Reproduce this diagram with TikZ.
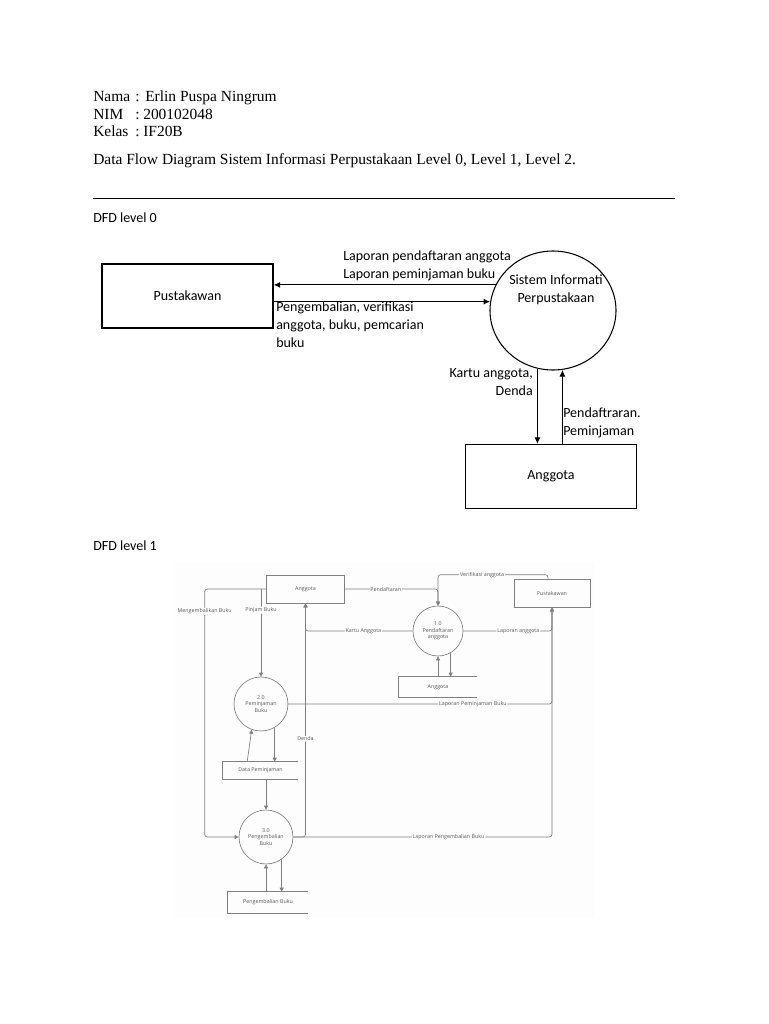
\documentclass[tikz,border=0pt]{standalone}
\usepackage{fontspec}
\setmainfont{Liberation Serif}
\newfontfamily\calfont{Carlito}
\newfontfamily\tinyfont{Open Sans}
\usetikzlibrary{arrows.meta,positioning,calc,shapes.geometric}

\begin{document}
\begin{tikzpicture}[x=0.75pt,y=-0.75pt,
		txt/.style={anchor=base west, inner sep=0, font=\fontsize{11.6}{14}\selectfont},
		box0/.style={draw=black, line width=0.8pt, minimum width=128.25pt, minimum height=48pt, inner sep=0, font=\calfont\fontsize{10.5}{13.5}\selectfont},
		proc0/.style={draw=black, ellipse, line width=0.8pt, minimum width=94.5pt, minimum height=89.25pt, inner sep=0},
		lbl0/.style={inner sep=0, font=\calfont\fontsize{10.5}{13.5}\selectfont},
		flow0/.style={line width=0.8pt, -{Latex[length=5pt,width=4.5pt]}},
		box1/.style={draw=black!50, line width=0.5pt, minimum height=21pt, inner sep=0, text=black!65, font=\tinyfont\fontsize{4}{5}\selectfont},
		proc1/.style={draw=black!50, circle, line width=0.5pt, inner sep=0, align=center, text=black!65, font=\tinyfont\fontsize{4}{5}\selectfont},
		store1/.style={inner sep=0, text=black!65, font=\tinyfont\fontsize{4}{5}\selectfont},
		edge1/.style={draw=black!50, line width=0.5pt},
		flow1/.style={edge1, rounded corners=2pt, -{Triangle[length=3pt,width=3pt]}},
		lbl1/.style={fill=black!0.8, inner sep=0.6pt, text=black!65, font=\tinyfont\fontsize{4}{5}\selectfont}]
	\useasboundingbox (0,0) rectangle (768,1024);

	% header
	\node[txt] (nama) at (93,101) {Nama};
	\node[txt] (namac) at (135,101) {:};
	\node[txt] (namaval) at (145,101) {Erlin Puspa Ningrum};
	\node[txt] (nim) at (93,119) {NIM};
	\node[txt] (nimc) at (135,119) {:};
	\node[txt] (nimval) at (143,119) {200102048};
	\node[txt] (kelas) at (93,137) {Kelas};
	\node[txt] (kelasc) at (135,137) {:};
	\node[txt] (kelasval) at (143,137) {IF20B};
	\node[txt] (judul) at (93,164) {Data Flow Diagram Sistem Informasi Perpustakaan Level 0, Level 1, Level 2.};
	\draw[line width=0.75pt] (93,198) -- (675,198);

	% DFD level 0
	\node[txt, font=\calfont\fontsize{10.5}{13.5}\selectfont] (lv0) at (93,222) {DFD level 0};
	\node[box0] (pk) at (187.5,296) {Pustakawan};
	\node[proc0] (sys) at (553,310.5) {};
	\node[lbl0, align=center] (systxt) at (556,290) {Sistem Informati\\Perpustakaan};
	\node[box0] (ang) at (551,476.5) {Anggota};

	\draw[flow0] (sys.156) -- (sys.156 -| pk.east);
	\draw[flow0] (sys.172 -| pk.east) -- (sys.172);
	\draw[flow0] (sys.255) -- (sys.255 |- ang.north);
	\draw[flow0] (sys.279 |- ang.north) -- (sys.279);

	\node[lbl0, align=left, anchor=north west] (lap) at (343,251) {Laporan pendaftaran anggota\\Laporan peminjaman buku};
	\node[lbl0, align=left, anchor=north west] (kem) at (276,302) {Pengembalian, verifikasi\\anggota, buku, pemcarian\\buku};
	\node[lbl0, align=right, anchor=north east] (kartu) at (533,368) {Kartu anggota,\\Denda};
	\node[lbl0, align=left, anchor=north west] (daftar) at (563,408) {Pendaftraran.\\Peminjaman};

	% DFD level 1
	\node[txt, font=\calfont\fontsize{10.5}{13.5}\selectfont] (lv1) at (93,550) {DFD level 1};
	\fill[black!0.8] (175,562) rectangle (595,918);
	\node[box1, minimum width=58.5pt] (a1) at (305.5,589) {Anggota};
	\node[box1, minimum width=57pt] (pk1) at (552,593) {Pustakawan};
	\node[proc1, minimum size=37.5pt] (p1) at (438,631) {1.0\\Pendaftaran\\anggota};
	\node[proc1, minimum size=40.5pt] (p2) at (261,704) {2.0\\Peminjaman\\Buku};
	\node[proc1, minimum size=40.5pt] (p3) at (266,837) {3.0\\Pengembalian\\Buku};
	\node[store1, minimum width=58.5pt, minimum height=15pt] (ds1) at (438,687) {Anggota};
	\node[store1, minimum width=56.25pt, minimum height=12.75pt] (ds2) at (260.5,770.5) {Data Peminjaman};
	\node[store1, minimum width=60pt, minimum height=15.75pt] (ds3) at (268,902.5) {Pengembalian Buku};
	\draw[edge1] (ds1.north east) -- (ds1.north west) -- (ds1.south west) -- (ds1.south east);
	\draw[edge1] (ds2.north east) -- (ds2.north west) -- (ds2.south west) -- (ds2.south east);
	\draw[edge1] (ds3.north east) -- (ds3.north west) -- (ds3.south west) -- (ds3.south east);

	\draw[flow1] (a1.east) -| node[lbl1, pos=0.22] {Pendaftaran} (p1.north);
	\draw[flow1] ([xshift=-3pt]pk1.north) -- ++(0,-4) -| node[lbl1, pos=0.3] {Verifikasi anggota} (p1.north);
	\draw[flow1] (p1.west) -| node[lbl1, pos=0.23] {Kartu Anggota} (a1.south);
	\draw[flow1] (p1.east) -| node[lbl1, pos=0.31] {Laporan anggota} (pk1.south);
	\draw[flow1] (ds1.north -| p1.south) -- (p1.south);
	\draw[flow1] (p1.300) -- (p1.300 |- ds1.north);
	\draw[flow1] (a1.west) -- ++(-61.5,0) |- node[lbl1, pos=0.045] {Mengembalikan Buku} (p3.west);
	\draw[flow1] (p2.north |- a1.west) -- node[lbl1, pos=0.24] {Pinjam Buku} (p2.north);
	\draw[flow1] (p2.east) -| node[lbl1, pos=0.35] {Laporan Peminjaman Buku} (pk1.south);
	\draw[flow1] ([xshift=-10pt]ds2.north) -- (p2.250);
	\draw[flow1] (p2.300) -- (p2.300 |- ds2.north);
	\draw[flow1] (p3.north |- ds2.south) -- (p3.north);
	\draw[flow1] (p3.east) -| node[lbl1, pos=0.71] {Denda} (a1.south);
	\draw[flow1] (p3.east) -| node[lbl1, pos=0.3] {Laporan Pengembalian Buku} (pk1.south);
	\draw[flow1] (ds3.north -| p3.south) -- (p3.south);
	\draw[flow1] (p3.305) -- (p3.305 |- ds3.north);
\end{tikzpicture}
\end{document}
